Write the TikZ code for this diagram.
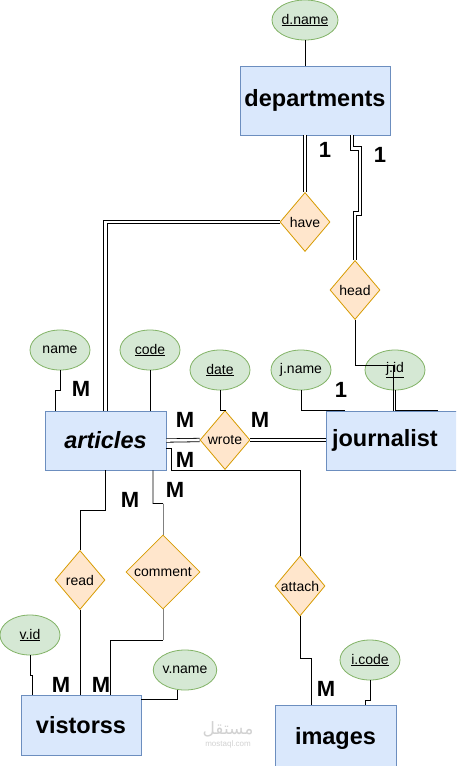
\documentclass[tikz,border=0pt]{standalone}
\usepackage{fontspec}
\setmainfont{Liberation Sans}
\newfontfamily\arabicfont[Script=Arabic]{DejaVu Sans}
\TeXXeTstate=1
\usetikzlibrary{shapes.geometric}
\definecolor{entfill}{HTML}{DAE8FC}
\definecolor{entdraw}{HTML}{6C8EBF}
\definecolor{attfill}{HTML}{D5E8D4}
\definecolor{attdraw}{HTML}{82B366}
\definecolor{relfill}{HTML}{FFE6CC}
\definecolor{reldraw}{HTML}{D79B00}
\tikzset{
  entity/.style={rectangle, draw=entdraw, fill=entfill, line width=0.8pt, inner sep=0pt,
    font=\fontsize{23.5}{28}\selectfont\bfseries},
  attr/.style={ellipse, draw=attdraw, fill=attfill, line width=0.8pt, inner sep=0pt,
    minimum width=60pt, minimum height=40pt, font=\fontsize{14}{16}\selectfont},
  rel/.style={diamond, draw=reldraw, fill=relfill, line width=0.8pt, inner sep=0pt,
    minimum width=50pt, minimum height=59pt, font=\fontsize{14}{16}\selectfont},
  conn/.style={draw=black, line width=0.8pt},
  dbl/.style={draw=black, double=white, double distance=2.6pt, line width=0.8pt},
  card/.style={font=\fontsize{22}{24}\selectfont\bfseries, inner sep=0pt}
}
\begin{document}
\begin{tikzpicture}[x=1pt,y=-1pt]
\useasboundingbox (0,0) rectangle (456,766);
\clip (0,0) rectangle (456,766);
\fill[white] (0,0) rectangle (456,766);

% entities
\node[entity, minimum width=150pt, minimum height=69pt] (departments) at (315,100.5) {departments};
\node[entity, minimum width=121pt, minimum height=59pt] (articles) at (105.5,440.5) {\itshape articles};
\node[entity, minimum width=140pt, minimum height=59pt, text width=128pt, align=left, inner xsep=6pt] (journalist) at (396,440.5) {journalist};
\node[entity, minimum width=120pt, minimum height=60pt] (vistorss) at (81,725) {vistorss};
\node[entity, minimum width=121pt, minimum height=66pt] (images) at (335.5,738) {images};

% attributes
\node[attr] (dname) at (305,20) {\underline{d.name}};
\node[attr] (name) at (60,350) {name};
\node[attr] (code) at (150,350) {\underline{code}};
\node[attr] (date) at (220,370) {\underline{date}};
\node[attr] (jname) at (301,370) {j.name};
\node[attr] (jid) at (395,370) {\underline{j.id}};
\node[attr] (vid) at (30,635) {\underline{v.id}};
\node[attr] (vname) at (185,670) {v.name};
\node[attr] (icode) at (370,660) {\underline{i.code}};

% relationships
\node[rel] (have) at (305,222) {have};
\node[rel] (head) at (355,290) {head};
\node[rel] (wrote) at (225,440) {wrote};
\node[rel] (read) at (80,580) {read};
\node[rel, minimum width=74pt, minimum height=74pt] (comment) at (163,572) {comment};
\node[rel, minimum height=60pt] (attach) at (300,586) {attach};

% connectors
\draw[conn] (dname.south) -- (dname.south |- departments.north);
\draw[dbl] (have.north |- departments.south) -- (have.north);
\draw[dbl] (have.west) -| (articles.north);
\draw[dbl] ([xshift=37pt]departments.south) -- ++(0,13) -- ++(8,0) -- ++(0,65) -- ++(-5,0) -- (head.north);
\draw[conn] (head.south) -- ++(0,45) -| ([xshift=-3pt]journalist.north);
\draw[conn] (jid.south) -- (jid.south |- journalist.north) -- ++(43,0);
\draw[conn] (jname.south) -- (jname.south |- journalist.north) -- ++(44,0);
\draw[conn] (name.south) -- ++(0,20) -| ([xshift=11pt]articles.north west);
\draw[conn] (code.south) -- (code.south |- articles.north);
\draw[conn] (date.south) -- ++(0,20) -| (wrote.north);
\draw[dbl] (articles.east) -- (wrote.west);
\draw[dbl] (wrote.east) -- (wrote.east -| journalist.west);
\draw[conn] ([yshift=-8pt]articles.east) -- ++(5,0) -- ++(0,22) -| (attach.north);
\draw[conn] (attach.south) -- ++(0,42) -| ([xshift=-24.5pt]images.north);
\draw[conn] (icode.south) -- ++(0,20) -| ([xshift=29.5pt]images.north);
\draw[conn] (articles.south) -- ++(0,40) -| (read.north);
\draw[conn] ([xshift=47.5pt]articles.south) -- ++(0,33) -- (comment.north |- 0,503.5);
\draw[conn, draw=gray] (comment.north |- 0,503.5) -- (comment.north);
\draw[conn] (read.south) -- (read.south |- vistorss.north);
\draw[conn, draw=gray] (comment.south) -- ++(0,31);
\draw[conn] ([yshift=-31pt]comment.south) -| ([xshift=29pt]vistorss.north);
\draw[conn] (vid.south) -- ++(0,20) -| ([xshift=12pt]vistorss.north west);
\draw[conn] (vname.250) |- ([yshift=-5pt]vistorss.north east);

% cardinalities
\node[card] (c1) at (325,150) {1};
\node[card] (c2) at (380,155) {1};
\node[card] (c3) at (341,390) {1};
\node[card] (m1) at (81,389) {M};
\node[card] (m2) at (185,420) {M};
\node[card] (m3) at (260,420) {M};
\node[card] (m4) at (185,460) {M};
\node[card] (m5) at (130,500) {M};
\node[card] (m6) at (175,490) {M};
\node[card] (m7) at (61,685) {M};
\node[card] (m8) at (101,685) {M};
\node[card] (m9) at (326,689) {M};

% watermark
\node[text=gray!35, inner sep=0pt, font=\arabicfont\fontsize{17}{18}\selectfont] (wm1) at (228,729) {\beginR مستقل\endR};
\node[text=gray!35, inner sep=0pt, font=\fontsize{8}{9}\selectfont] (wm2) at (228,744) {mostaql.com};
\end{tikzpicture}
\end{document}
